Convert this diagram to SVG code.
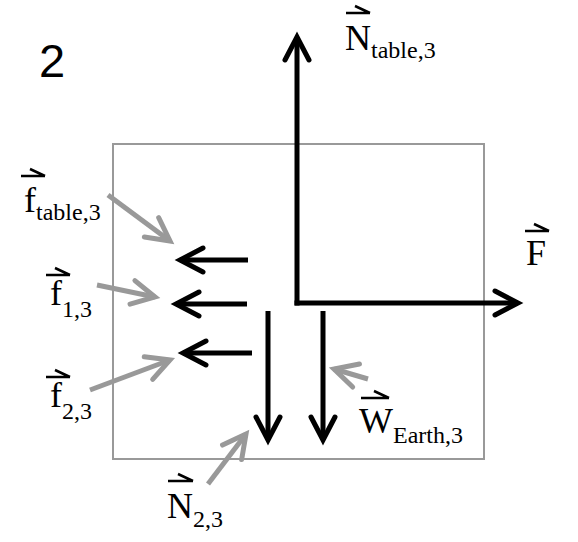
<svg xmlns="http://www.w3.org/2000/svg" width="578" height="542" viewBox="0 0 578 542">
<style>
.blk{stroke:#000;stroke-width:5;fill:none;stroke-linecap:butt}
.gry{stroke:#999;stroke-width:5;fill:none}
.box{stroke:#999;stroke-width:2;fill:none}
.vec{stroke:#000;stroke-width:2.5;fill:none}
.lab{font-family:"Liberation Serif","Times New Roman",serif;font-size:36px;fill:#000}
.sub{font-size:24px}
.num{font-family:"Liberation Sans",Arial,sans-serif;font-size:47px;fill:#000}
</style>
<defs>
<marker id="hb" markerUnits="userSpaceOnUse" markerWidth="60" markerHeight="60" refX="0" refY="0" orient="auto" overflow="visible" viewBox="-30 -30 60 60">
<path d="M-23,-12 L0,0 L-23,12" stroke="#000" stroke-width="5" fill="none" stroke-linecap="round" stroke-linejoin="miter"/>
</marker>
<marker id="hg" markerUnits="userSpaceOnUse" markerWidth="60" markerHeight="60" refX="0" refY="0" orient="auto" overflow="visible" viewBox="-30 -30 60 60">
<path d="M-23,-12 L0,0 L-23,12" stroke="#999" stroke-width="5" fill="none" stroke-linecap="round" stroke-linejoin="miter"/>
</marker>
</defs>
<rect id="block" class="box" x="113" y="144" width="371" height="315"/>
<text id="num" class="num" x="39" y="77">2</text>
<g id="connectors">
<line class="blk" x1="297" y1="305.5" x2="297" y2="37" marker-end="url(#hb)"/>
<line class="blk" x1="294.5" y1="303" x2="518" y2="303" marker-end="url(#hb)"/>
<line class="blk" x1="248" y1="260" x2="180" y2="260" marker-end="url(#hb)"/>
<line class="blk" x1="247" y1="304" x2="176" y2="304" marker-end="url(#hb)"/>
<line class="blk" x1="252" y1="353" x2="183" y2="353" marker-end="url(#hb)"/>
<line class="blk" x1="268" y1="311" x2="268" y2="440" marker-end="url(#hb)"/>
<line class="blk" x1="323" y1="311" x2="323" y2="440" marker-end="url(#hb)"/>
<line class="gry" x1="108" y1="195" x2="170" y2="241" marker-end="url(#hg)"/>
<line class="gry" x1="97" y1="285" x2="155" y2="297" marker-end="url(#hg)"/>
<line class="gry" x1="90" y1="390" x2="170" y2="360" marker-end="url(#hg)"/>
<line class="gry" x1="368" y1="379" x2="334" y2="369" marker-end="url(#hg)"/>
<line class="gry" x1="208" y1="484" x2="246" y2="434" marker-end="url(#hg)"/>
</g>
<g id="N_table3">
<path class="vec" d="M346,13 H370 M355,6 L370,13"/>
<text class="lab" x="345" y="50">N<tspan class="sub" dy="8">table,3</tspan></text>
</g>
<g id="F">
<path class="vec" d="M525,231 H549 M534,224 L549,231"/>
<text class="lab" x="526" y="265">F</text>
</g>
<g id="f_table3">
<path class="vec" d="M21,176 H45 M30,169 L45,176"/>
<text class="lab" x="24" y="212">f<tspan class="sub" dy="8">table,3</tspan></text>
</g>
<g id="f_13">
<path class="vec" d="M46,275 H70 M55,268 L70,275"/>
<text class="lab" x="50" y="305">f<tspan class="sub" dy="12">1,3</tspan></text>
</g>
<g id="f_23">
<path class="vec" d="M46,377 H70 M55,370 L70,377"/>
<text class="lab" x="50" y="407">f<tspan class="sub" dy="12">2,3</tspan></text>
</g>
<g id="W_earth3">
<path class="vec" d="M361,398 H389 M374,391 L389,398"/>
<text class="lab" x="359" y="433">W<tspan class="sub" dy="10">Earth,3</tspan></text>
</g>
<g id="N_23">
<path class="vec" d="M168,481 H193 M178,474 L193,481"/>
<text class="lab" x="167" y="518">N<tspan class="sub" dy="9">2,3</tspan></text>
</g>
</svg>
